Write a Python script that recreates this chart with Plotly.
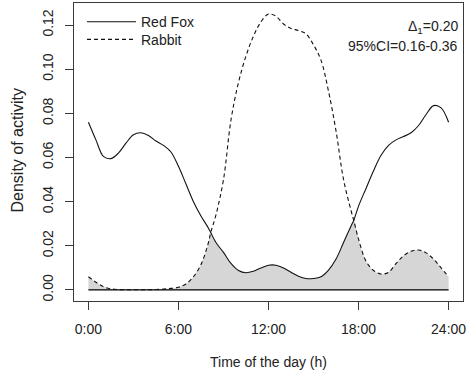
import plotly.graph_objects as go

HOURS = [0, 0.5, 1, 1.5, 2, 2.5, 3, 3.5, 4, 4.5, 5, 5.5, 6, 6.5, 7, 7.5, 8, 8.15, 8.5, 9,
         9.5, 10, 10.5, 11, 11.5, 12, 12.5, 13, 13.5, 14, 14.5, 15, 15.5, 16, 16.5, 17,
         17.5, 17.68, 18, 18.5, 19, 19.5, 20, 20.5, 21, 21.5, 22, 22.5, 23, 23.5, 24]

RED_FOX = [0.0760, 0.0680, 0.0605, 0.0595, 0.0620, 0.0665, 0.0703, 0.0712, 0.0700, 0.0675,
           0.0655, 0.0625, 0.0560, 0.0480, 0.0400, 0.0335, 0.0280, 0.0260, 0.0215, 0.0170,
           0.0120, 0.0088, 0.0078, 0.0085, 0.0100, 0.0112, 0.0112, 0.0100, 0.0080, 0.0062,
           0.0052, 0.0052, 0.0060, 0.0090, 0.0140, 0.0215, 0.0290, 0.0315, 0.0380, 0.0460,
           0.0540, 0.0610, 0.0655, 0.0680, 0.0695, 0.0712, 0.0745, 0.0795, 0.0835, 0.0825,
           0.0760]

RABBIT = [0.0060, 0.0035, 0.0015, 0.0005, 0.0002, 0.0001, 0.0001, 0.0001, 0.0001, 0.0002,
          0.0004, 0.0007, 0.0012, 0.0027, 0.0060, 0.0115, 0.0215, 0.0260, 0.0340, 0.0500,
          0.0770, 0.0940, 0.1060, 0.1150, 0.1215, 0.1250, 0.1240, 0.1205, 0.1185, 0.1175,
          0.1160, 0.1110, 0.1040, 0.0900, 0.0720, 0.0500, 0.0360, 0.0315, 0.0230, 0.0130,
          0.0088, 0.0072, 0.0080, 0.0120, 0.0155, 0.0175, 0.0181, 0.0168, 0.0140, 0.0100,
          0.0060]

X_TICKS = [0, 6, 12, 18, 24]
X_LABELS = ["0:00", "6:00", "12:00", "18:00", "24:00"]
Y_TICKS = [0.00, 0.02, 0.04, 0.06, 0.08, 0.10, 0.12]

SERIES_NAMES = ["Red Fox", "Rabbit"]
X_TITLE = "Time of the day (h)"
Y_TITLE = "Density of activity"
DELTA_TEXT = "Δ<sub>1</sub>=0.20"
CI_TEXT = "95%CI=0.16-0.36"

overlap = [min(a, b) for a, b in zip(RED_FOX, RABBIT)]

FONT = "Liberation Sans, Arial, sans-serif"
AX = "#3a3a3a"

fig = go.Figure()
fig.add_trace(go.Scatter(x=HOURS, y=overlap, mode="lines", line=dict(width=0, shape="spline"),
                         fill="tozeroy", fillcolor="#d6d6d6", showlegend=False, hoverinfo="skip"))
fig.add_trace(go.Scatter(x=[HOURS[0], HOURS[-1]], y=[0, 0], mode="lines",
                         line=dict(color="black", width=1.3), showlegend=False))
fig.add_trace(go.Scatter(x=HOURS, y=RED_FOX, mode="lines", name=SERIES_NAMES[0], legend="legend",
                         line=dict(color="#111", width=1.1, shape="spline")))
fig.add_trace(go.Scatter(x=HOURS, y=RABBIT, mode="lines", name=SERIES_NAMES[1], legend="legend2",
                         line=dict(color="#111", width=1.1, shape="spline", dash="4px,3px")))

legend_common = dict(x=0.0206, xanchor="left", yanchor="middle", bgcolor="rgba(0,0,0,0)",
                     font=dict(size=14), itemwidth=49)

fig.update_layout(
    width=474, height=373,
    margin=dict(l=74, r=11, t=3, b=72, autoexpand=False),
    plot_bgcolor="white", paper_bgcolor="white",
    font=dict(family=FONT, size=14, color="#222"),
    legend=dict(y=0.9356, **legend_common),
    legend2=dict(y=0.8765, **legend_common),
    annotations=[
        dict(text=DELTA_TEXT, xref="paper", yref="paper", x=0.992, y=0.92, xanchor="right",
             yanchor="middle", showarrow=False, font=dict(size=14)),
        dict(text=CI_TEXT, xref="paper", yref="paper", x=0.992, y=0.856, xanchor="right",
             yanchor="middle", showarrow=False, font=dict(size=14)),
        dict(text=X_TITLE, xref="paper", yref="paper", x=0.5, y=-0.2047, xanchor="center",
             yanchor="middle", showarrow=False, font=dict(size=14)),
        dict(text=Y_TITLE, xref="paper", yref="paper", x=-0.1465, y=0.505, xanchor="center",
             yanchor="middle", textangle=-90, showarrow=False, font=dict(size=16)),
    ],
)
fig.update_xaxes(range=[-0.96, 24.96], tickvals=X_TICKS, ticktext=X_LABELS,
                 showgrid=False, zeroline=False, showline=True, mirror=True, linecolor=AX,
                 linewidth=1, ticks="outside", ticklen=8, tickcolor=AX, tickfont=dict(size=14),
                 ticklabelstandoff=7)
fig.update_yaxes(range=[-0.005, 0.130], tickvals=Y_TICKS, tickformat=".2f", tickangle=-90,
                 showgrid=False, zeroline=False, showline=True, mirror=True, linecolor=AX,
                 linewidth=1, ticks="outside", ticklen=8, tickcolor=AX, tickfont=dict(size=14),
                 ticklabelstandoff=6)

fig.write_html("out.html", config={"displayModeBar": False},
               post_script="document.body.style.margin='0';document.body.style.padding='0';")
